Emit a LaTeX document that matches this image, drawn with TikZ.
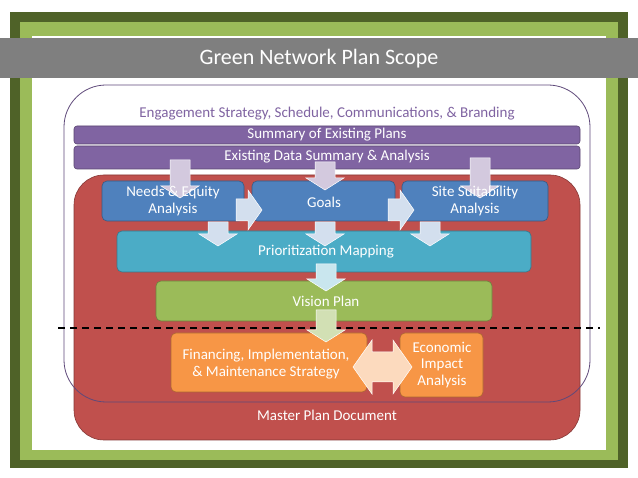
\documentclass[tikz,border=0pt]{standalone}
\usepackage{fontspec}
\setmainfont{Carlito}
\definecolor{darkgrn}{HTML}{4F6228}
\definecolor{litegrn}{HTML}{9BBB59}
\definecolor{banner}{HTML}{7F7F7F}
\definecolor{purp}{HTML}{8064A2}
\definecolor{purpline}{HTML}{5F497A}
\definecolor{redbox}{HTML}{C0504D}
\definecolor{bluebox}{HTML}{4F81BD}
\definecolor{tealbox}{HTML}{4BACC6}
\definecolor{orngbox}{HTML}{F79646}
\begin{document}
\begin{tikzpicture}[x=1pt,y=-1pt,
  txt/.style={text=white,font=\fontsize{15}{16.5}\selectfont,align=center},
  box/.style={draw=#1!70!black,fill=#1,rounded corners=5pt,line width=0.6pt}]

  % Rahmen
  \fill[white] (0,0) rectangle (638,478);
  \fill[darkgrn] (10,12) rectangle (628,468);
  \fill[litegrn] (20,22) rectangle (618,460);
  \fill[white] (32,36) rectangle (606,450);
  \fill[banner] (0,38) rectangle (638,78);

  % Master Plan (rot)
  \draw[box=redbox,rounded corners=30pt] (74,175) rectangle (580,440);

  % Engagement (Umriss)
  \draw[purpline,line width=0.8pt,rounded corners=42pt] (64,85) rectangle (590,402);

  % Balken und Boxen
  \draw[box=purp,rounded corners=3pt] (74,126) rectangle (580,144);
  \draw[box=purp,rounded corners=3pt] (74,146) rectangle (580,169);
  \draw[box=bluebox] (102,181) rectangle (244,221);
  \draw[box=bluebox] (252,181) rectangle (395,221);
  \draw[box=bluebox] (402,181) rectangle (548,221);
  \draw[box=tealbox] (117,231) rectangle (531,272);
  \draw[box=litegrn] (156,281) rectangle (492,321);
  \draw[box=orngbox] (171,333) rectangle (367,392);
  \draw[box=orngbox] (400,333) rectangle (483,397);

  % Trennlinie
  \draw[dashed,line width=1.6pt,dash pattern=on 7pt off 5pt] (58,328) -- (600,328);

  % Blockpfeile nach unten
  \foreach \x/\ya/\yb/\c in {180/160/198/purp!35, 325/162/190/purp!35, 480/158/198/purp!35,
      218/222/246/bluebox!25, 325/222/246/bluebox!25, 430/222/246/bluebox!25,
      326/264/291/tealbox!30, 326/310/342/litegrn!45}
    \fill[\c,draw=white,line width=0.5pt] (\x-10,\ya) -- (\x+10,\ya) -- (\x+10,\yb-12)
      -- (\x+19,\yb-12) -- (\x,\yb) -- (\x-19,\yb-12) -- (\x-10,\yb-12) -- cycle;

  % Blockpfeile nach rechts
  \foreach \x in {236,388}
    \fill[bluebox!25,draw=white,line width=0.5pt] (\x,199) -- (\x+12,199) -- (\x+12,190)
      -- (\x+26,210) -- (\x+12,230) -- (\x+12,221) -- (\x,221) -- cycle;

  % Doppelpfeil
  \fill[orngbox!35,draw=white,line width=0.5pt] (353,367) -- (372,340) -- (372,352) -- (393,352)
    -- (393,340) -- (412,367) -- (393,394) -- (393,382) -- (372,382) -- (372,394) -- cycle;

  % Texte
  \node[text=white,font=\fontsize{22}{24}\selectfont] (title) at (319,59) {Green Network Plan Scope};
  \node[txt] (master) at (327,415) {Master Plan Document};
  \node[text=purp,font=\fontsize{15}{16.5}\selectfont] (engage) at (327,114) {Engagement Strategy, Schedule, Communications, \& Branding};
  \node[txt] (summary) at (327,135) {Summary of Existing Plans};
  \node[txt] (data) at (327,157) {Existing Data Summary \& Analysis};
  \node[txt] (needs) at (173,201) {Needs \& Equity\\Analysis};
  \node[txt] (goals) at (324,202) {Goals};
  \node[txt] (site) at (475,201) {Site Suitability\\Analysis};
  \node[txt] (prior) at (326,252) {Prioritization Mapping};
  \node[txt] (vision) at (326,301) {Vision Plan};
  \node[txt] (fin) at (266,364) {Financing, Implementation,\\\& Maintenance Strategy};
  \node[txt] (econ) at (442,365) {Economic\\Impact\\Analysis};

\end{tikzpicture}
\end{document}
